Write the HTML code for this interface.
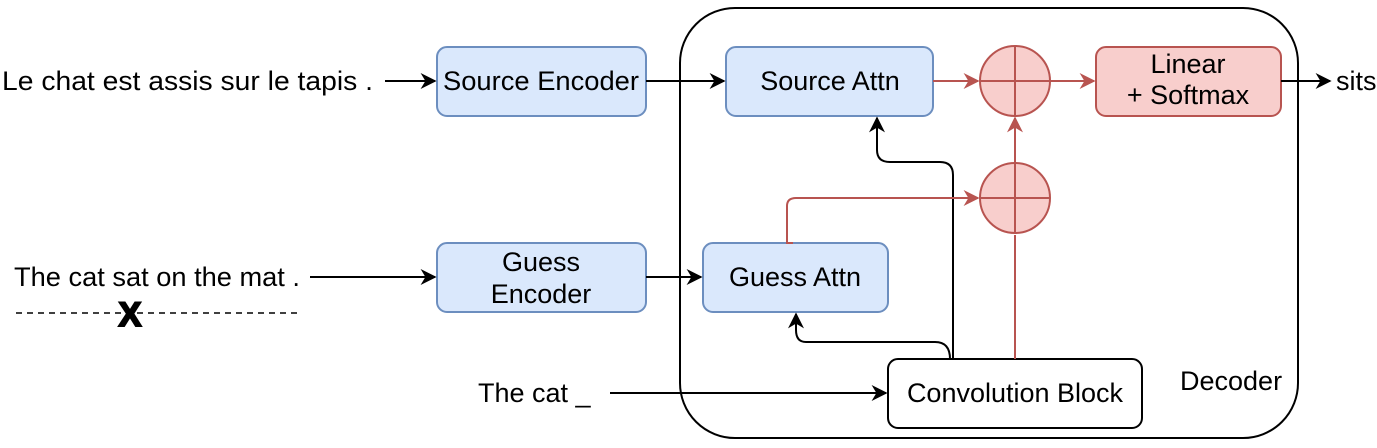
<!DOCTYPE html>
<html><head><style>
html,body{margin:0;padding:0;background:#fff;}
svg text{font-family:"Liberation Sans",Arial,sans-serif;font-size:27px;fill:#000;}
</style></head><body>
<svg width="1377" height="443" viewBox="0 0 1377 443" xmlns="http://www.w3.org/2000/svg">
<defs>
<marker id="ab" viewBox="0 0 10 10" refX="9" refY="5" markerWidth="18" markerHeight="16" markerUnits="userSpaceOnUse" orient="auto"><path d="M0,0 L10,5 L0,10 L3,5 z" fill="#000"/></marker>
<marker id="ar" viewBox="0 0 10 10" refX="9" refY="5" markerWidth="18" markerHeight="16" markerUnits="userSpaceOnUse" orient="auto"><path d="M0,0 L10,5 L0,10 L3,5 z" fill="#b85450"/></marker>
</defs>
<rect x="680" y="8" width="618" height="430" rx="55" fill="none" stroke="#000" stroke-width="2"/>
<g fill="#dae8fc" stroke="#6c8ebf" stroke-width="2">
<rect x="437" y="47" width="209" height="69" rx="10"/>
<rect x="726" y="47" width="207" height="69" rx="10"/>
<rect x="437" y="243" width="209" height="69" rx="10"/>
<rect x="703" y="243" width="185" height="69" rx="10"/>
</g>
<rect x="1096" y="47" width="185" height="69" rx="10" fill="#f8cecc" stroke="#b85450" stroke-width="2"/>
<rect x="888" y="359" width="254" height="69" rx="10" fill="#fff" stroke="#000" stroke-width="2"/>
<g fill="#f8cecc" stroke="#b85450" stroke-width="2">
<circle cx="1015" cy="81" r="35"/><path d="M980 81H1050M1015 46V116"/>
<circle cx="1015" cy="198" r="35"/><path d="M980 198H1050M1015 163V233"/>
</g>
<g fill="none" stroke="#000" stroke-width="2">
<path d="M385 81H435" marker-end="url(#ab)"/>
<path d="M646 81H724" marker-end="url(#ab)"/>
<path d="M310 277H435" marker-end="url(#ab)"/>
<path d="M646 277H701" marker-end="url(#ab)"/>
<path d="M610 393H886" marker-end="url(#ab)"/>
<path d="M1281 81H1330" marker-end="url(#ab)"/>
<path d="M953 359V175Q953 162 940 162H890Q877 162 877 150V118" marker-end="url(#ab)"/>
<path d="M950 359Q950 342 935 342H806Q796 342 796 330V314" marker-end="url(#ab)"/>
</g>
<path d="M16 313H300" stroke="#000" stroke-width="1.5" stroke-dasharray="6,5" fill="none"/>
<text x="130" y="326" text-anchor="middle" style="font-size:34px;font-weight:bold;stroke:#000;stroke-width:2">X</text>
<g fill="none" stroke="#b85450" stroke-width="2">
<path d="M933 81H978" marker-end="url(#ar)"/>
<path d="M1050 81H1094" marker-end="url(#ar)"/>
<path d="M1015 163V118" marker-end="url(#ar)"/>
<path d="M1015 359V235"/>
<path d="M793 243H787V206Q787 198 796 198H978" marker-end="url(#ar)"/>
</g>
<text x="2" y="90" textLength="371" lengthAdjust="spacingAndGlyphs">Le chat est assis sur le tapis .</text>
<text x="14" y="286" textLength="286" lengthAdjust="spacingAndGlyphs">The cat sat on the mat .</text>
<text x="478" y="402">The cat  _</text>
<text x="541" y="90" text-anchor="middle" textLength="196" lengthAdjust="spacingAndGlyphs">Source Encoder</text>
<text x="830" y="90" text-anchor="middle">Source Attn</text>
<text x="541" y="271" text-anchor="middle">Guess</text>
<text x="541" y="303" text-anchor="middle">Encoder</text>
<text x="795" y="286" text-anchor="middle">Guess Attn</text>
<text x="1188" y="73" text-anchor="middle">Linear</text>
<text x="1188" y="104" text-anchor="middle">+ Softmax</text>
<text x="1015" y="402" text-anchor="middle">Convolution Block</text>
<text x="1180" y="390">Decoder</text>
<text x="1336" y="90">sits</text>
</svg>
</body></html>
